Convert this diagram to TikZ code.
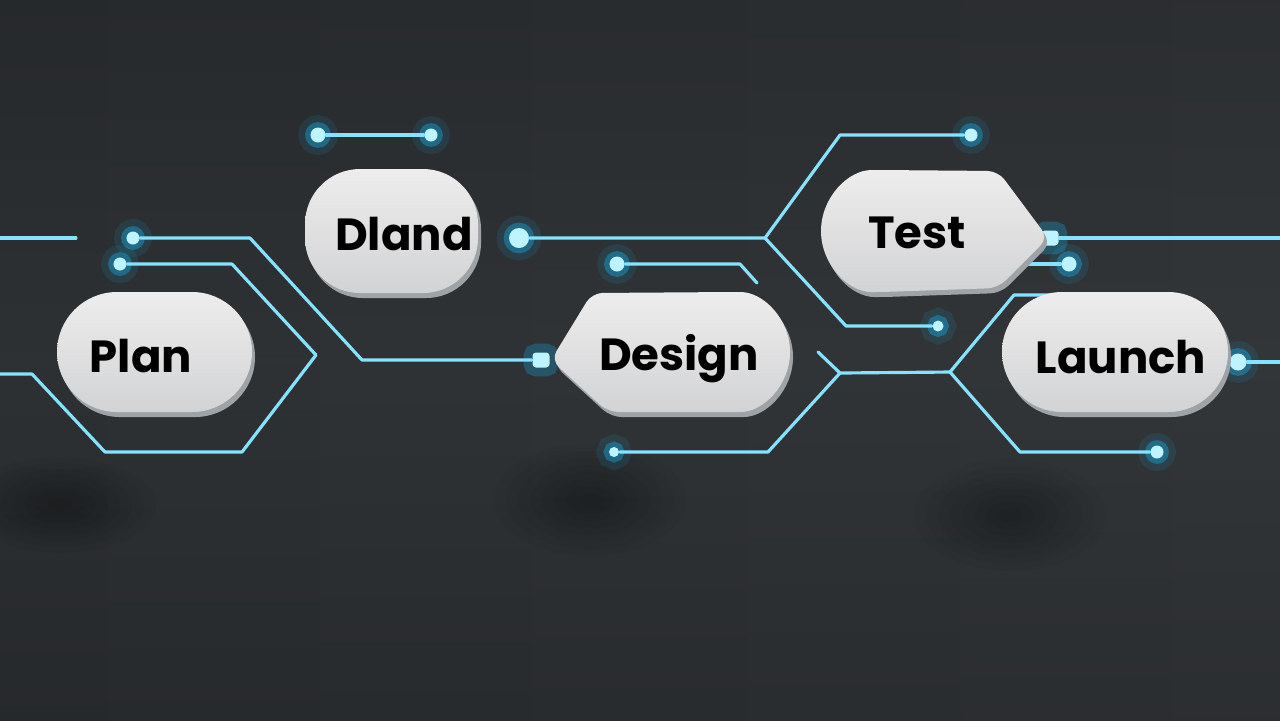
\documentclass[tikz,border=0pt]{standalone}
\usepackage{fontspec}
\setsansfont{Poppins}
\usetikzlibrary{positioning}

\definecolor{bgleft}{HTML}{2C2F32}
\definecolor{bgmid}{HTML}{3E4144}
\definecolor{bgright}{HTML}{323538}
\definecolor{wirecore}{HTML}{86E3FF}
\definecolor{wireglow}{HTML}{10BEFF}
\definecolor{dotcore}{HTML}{BDF4FF}
\definecolor{tagface}{HTML}{EDEDED}
\definecolor{tagfoot}{HTML}{D2D3D4}
\definecolor{tagside}{HTML}{9EA3A8}

\tikzset{
  wire/.style={draw=wirecore, line width=0.9pt, line join=round, line cap=round,
    preaction={draw=wireglow, line width=7pt, draw opacity=0.10},
    preaction={draw=wireglow, line width=3.5pt, draw opacity=0.35}},
  tracedot/.style={circle, fill=dotcore, inner sep=0pt, minimum size=#1,
    preaction={draw=wireglow, line width=7pt, draw opacity=0.10},
    preaction={draw=wireglow, line width=3pt, draw opacity=0.35}},
  tracedot/.default=0.13cm,
  portbox/.style={rectangle, rounded corners=1pt, fill=dotcore, inner sep=0pt,
    minimum width=0.17cm, minimum height=0.15cm,
    preaction={draw=wireglow, line width=5pt, draw opacity=0.25}},
  bubble/.style={top color=tagface, bottom color=tagfoot},
  bubbleside/.style={fill=tagside},
  tagtext/.style={font=\sffamily\bfseries\fontsize{12.8}{15}\selectfont,
    text=black, anchor=base, inner sep=0pt}
}

\newcommand{\tagshape}[1]{%
  \path[bubbleside, xshift=0.03cm, yshift=-0.05cm] #1;
  \path[bubble] #1;}

\begin{document}
\begin{tikzpicture}[x=0.01cm, y=-0.01cm]
  \useasboundingbox (0,0) rectangle (1280,720);
  \shade[left color=bgleft, middle color=bgmid, right color=bgright]
    (0,0) rectangle (1280,720);
  \shade[top color=black, bottom color=black, middle color=bgmid, opacity=0.12]
    (0,0) rectangle (1280,720);

  % soft shadows on the floor
  \foreach \r in {1,...,8} {
    \fill[black, opacity=0.03] (60,505) ellipse [x radius=12*\r, y radius=6*\r];
    \fill[black, opacity=0.03] (590,500) ellipse [x radius=12*\r, y radius=7*\r];
    \fill[black, opacity=0.03] (1010,515) ellipse [x radius=12*\r, y radius=7*\r];
  }

  % dots and ports
  \node[tracedot] (pA) at (133,238) {};
  \node[tracedot] (pB) at (120,264) {};
  \node[tracedot=0.15cm] (tA) at (318,135) {};
  \node[tracedot] (tB) at (431,135) {};
  \node[tracedot=0.2cm] (hub) at (519,238) {};
  \node[tracedot=0.15cm] (mA) at (617,264) {};
  \node[tracedot=0.1cm] (mB) at (614,452) {};
  \node[tracedot] (tC) at (971,135) {};
  \node[tracedot=0.11cm] (tD) at (938,326) {};
  \node[tracedot=0.15cm] (tE) at (1069,264) {};
  \node[tracedot] (tF) at (1157,452) {};
  \node[tracedot=0.17cm] (lport) at (1238,362) {};
  \node[portbox] (dzport) at (541,360) {};
  \node[portbox] (tsport) at (1050,238) {};

  % bends and loose ends
  \coordinate (w1) at (0,238);     \coordinate (w2) at (76,238);
  \coordinate (kA1) at (250,238);  \coordinate (kA2) at (362,360);
  \coordinate (kB1) at (232,264);  \coordinate (kB2) at (316,355);
  \coordinate (kB3) at (242,452);  \coordinate (kB4) at (105,452);
  \coordinate (kB5) at (32,374);   \coordinate (kB6) at (0,374);
  \coordinate (kC) at (765,238);
  \coordinate (kC1) at (840,135);  \coordinate (kC2) at (846,326);
  \coordinate (kD) at (1010,264);  \coordinate (e1) at (1280,238);
  \coordinate (kE1) at (740,264);  \coordinate (kE2) at (757,283);
  \coordinate (kF0) at (818,352);  \coordinate (kF) at (840,373);
  \coordinate (kF1) at (768,452);
  \coordinate (kG) at (950,372);
  \coordinate (kG1) at (1014,295); \coordinate (kG2) at (1100,295);
  \coordinate (kG3) at (1020,452);
  \coordinate (e2) at (1280,362);

  \begin{scope}[wire]
    \draw (w1) -- (w2);
    \draw (pA) -- (kA1) -- (kA2) -- (dzport);
    \draw (pB) -- (kB1) -- (kB2) -- (kB3) -- (kB4) -- (kB5) -- (kB6);
    \draw (tA) -- (tB);
    \draw (hub) -- (kC) -- (kC1) -- (tC);
    \draw (kC) -- (kC2) -- (tD);
    \draw (mA) -- (kE1) -- (kE2);
    \draw (kD) -- (tE);
    \draw (tsport) -- (e1);
    \draw (kF0) -- (kF) -- (kG);
    \draw (kF) -- (kF1) -- (mB);
    \draw (kG) -- (kG1) -- (kG2);
    \draw (kG) -- (kG3) -- (tF);
    \draw (lport) -- (e2);
  \end{scope}

  % the tags
  \tagshape{[rounded corners=0.6cm] (57,292) rectangle (252,412)}
  \tagshape{[rounded corners=0.55cm] (305,169) rectangle (478,293)}
  \tagshape{[rounded corners=3pt] (551,360) -- (592,293) -- (730,292)
    arc[start angle=-90, end angle=90, radius=60] -- (608,412) -- cycle}
  \tagshape{[rounded corners=3pt] (882,292) arc[start angle=90, end angle=270, radius=61]
    -- (998,171) -- (1048,238) -- (998,288) -- cycle}
  \tagshape{[rounded corners=0.6cm] (1002,292) rectangle (1228,412)}

  \node[tagtext] (plan) at (141,372) {Plan};
  \node[tagtext] (dland) at (404,250) {Dland};
  \node[tagtext] (design) at (679,370) {Design};
  \node[tagtext] (test) at (917,248) {Test};
  \node[tagtext] (launch) at (1121,373) {Launch};
\end{tikzpicture}
\end{document}
